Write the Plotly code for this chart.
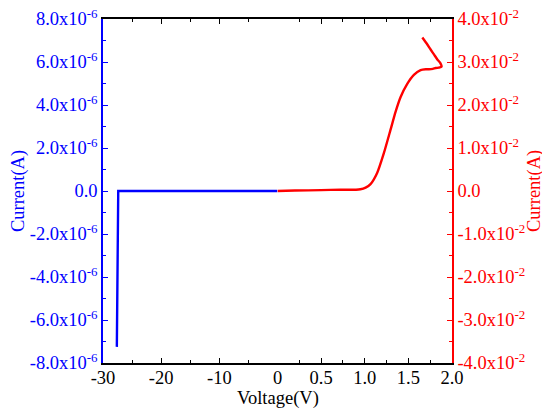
import plotly.graph_objects as go

# Blue branch (reverse bias), left axis
blue_v = [-27.62, -27.55, -27.45, -27.38, -27.0, -20.0, -10.0, 0.0]
blue_i = [-7.25e-6, -5.0e-6, -2.0e-6, 0.0, 0.0, 0.0, 0.0, 0.0]

# Red branch (forward bias), right axis
red_v = [0.0, 0.2, 0.5, 0.72, 0.90, 0.95, 1.01, 1.066, 1.142, 1.219, 1.295, 1.353, 1.41,
         1.487, 1.563, 1.64, 1.70, 1.736, 1.78, 1.813, 1.85, 1.88, 1.865, 1.832, 1.795,
         1.755, 1.71, 1.66]
red_i = [0.0, 0.0001, 0.0002, 0.0003, 0.0003, 0.0004, 0.0008, 0.0016, 0.0042, 0.0088,
         0.0142, 0.0184, 0.0218, 0.0249, 0.027, 0.0281, 0.0283, 0.0283, 0.0284, 0.0286,
         0.0287, 0.0289, 0.0298, 0.0306, 0.0317, 0.0329, 0.0343, 0.0357]

x_left_ticks = [-30, -20, -10, 0]
x_left_text = ["-30", "-20", "-10", "0"]
x_right_ticks = [0.5, 1.0, 1.5, 2.0]
x_right_text = ["0.5", "1.0", "1.5", "2.0"]
y_left_ticks = [-8e-6, -6e-6, -4e-6, -2e-6, 0, 2e-6, 4e-6, 6e-6, 8e-6]
y_left_text = ["-8.0x10<sup>-6</sup>", "-6.0x10<sup>-6</sup>", "-4.0x10<sup>-6</sup>",
               "-2.0x10<sup>-6</sup>", "0.0", "2.0x10<sup>-6</sup>", "4.0x10<sup>-6</sup>",
               "6.0x10<sup>-6</sup>", "8.0x10<sup>-6</sup>"]
y_right_ticks = [-0.04, -0.03, -0.02, -0.01, 0, 0.01, 0.02, 0.03, 0.04]
y_right_text = ["-4.0x10<sup>-2</sup>", "-3.0x10<sup>-2</sup>", "-2.0x10<sup>-2</sup>",
                "-1.0x10<sup>-2</sup>", "0.0", "1.0x10<sup>-2</sup>", "2.0x10<sup>-2</sup>",
                "3.0x10<sup>-2</sup>", "4.0x10<sup>-2</sup>"]

BLUE = "#0000ff"
RED = "#ff0000"
FONT = "Liberation Serif"
FS = 18.5

fig = go.Figure()
fig.add_trace(go.Scatter(x=blue_v, y=blue_i, mode="lines", xaxis="x", yaxis="y",
                         line=dict(color=BLUE, width=2.4), showlegend=False))
fig.add_trace(go.Scatter(x=red_v, y=red_i, mode="lines", xaxis="x2", yaxis="y2",
                         line=dict(color=RED, width=2.4, shape="spline", smoothing=0.6),
                         showlegend=False))

common_x = dict(showline=True, linecolor="black", linewidth=1.5, ticks="inside",
                ticklen=5, tickwidth=1.3, tickcolor="black", mirror="ticks",
                showgrid=False, zeroline=False, automargin=False, ticklabeloverflow="allow",
                ticklabelstandoff=-3,
                tickfont=dict(family=FONT, size=FS, color="black"))

fig.update_layout(
    width=550, height=410,
    margin=dict(l=95, r=106, t=11, b=55, autoexpand=False),
    paper_bgcolor="white", plot_bgcolor="white",
    font=dict(family=FONT, size=FS),
    xaxis=dict(domain=[0, 0.5], range=[-30, 0], anchor="y",
               tickmode="array", tickvals=x_left_ticks, ticktext=x_left_text,
               minor=dict(tickvals=[-25, -15, -5], ticks="inside", ticklen=3,
                          tickcolor="black", tickwidth=1.3),
               **common_x),
    xaxis2=dict(domain=[0.5, 1], range=[0, 2], anchor="y2",
                tickmode="array", tickvals=x_right_ticks, ticktext=x_right_text,
                minor=dict(tickvals=[0.25, 0.75, 1.25, 1.75], ticks="inside", ticklen=3,
                           tickcolor="black", tickwidth=1.3),
                **common_x),
    yaxis=dict(domain=[0, 1], range=[-8e-6, 8e-6], anchor="x", side="left",
               showline=True, linecolor=BLUE, linewidth=1.5, ticks="inside", ticklen=5,
               tickwidth=1.3, tickcolor=BLUE, showgrid=False, zeroline=False, automargin=False,
               ticklabeloverflow="allow",
               tickmode="array", tickvals=y_left_ticks, ticktext=y_left_text,
               minor=dict(tickvals=[-7e-6, -5e-6, -3e-6, -1e-6, 1e-6, 3e-6, 5e-6, 7e-6],
                          ticks="inside", ticklen=3, tickcolor=BLUE, tickwidth=1.3),
               tickfont=dict(family=FONT, size=FS, color=BLUE),
               title=dict(text="Current(A)", font=dict(family=FONT, size=FS, color=BLUE))),
    yaxis2=dict(domain=[0, 1], range=[-0.04, 0.04], anchor="x2", side="right",
                overlaying="y", automargin=False, ticklabeloverflow="allow",
                showline=True, linecolor=RED, linewidth=1.5, ticks="inside", ticklen=5,
                tickwidth=1.3, tickcolor=RED, showgrid=False, zeroline=False,
                tickmode="array", tickvals=y_right_ticks, ticktext=y_right_text,
                minor=dict(tickvals=[-0.035, -0.025, -0.015, -0.005, 0.005, 0.015, 0.025, 0.035],
                           ticks="inside", ticklen=3, tickcolor=RED, tickwidth=1.3),
                tickfont=dict(family=FONT, size=FS, color=RED)),
)

fig.add_annotation(text="Current(A)", xref="paper", yref="paper", x=1, y=0.5,
                   xshift=82, xanchor="center", yanchor="middle", textangle=-90,
                   showarrow=False, font=dict(family=FONT, size=FS, color=RED))

fig.add_annotation(text="Voltage(V)", xref="paper", yref="paper", x=0.5, y=0,
                   yshift=-23, yanchor="top", showarrow=False,
                   font=dict(family=FONT, size=FS, color="black"))

fig.write_html("out.html")
